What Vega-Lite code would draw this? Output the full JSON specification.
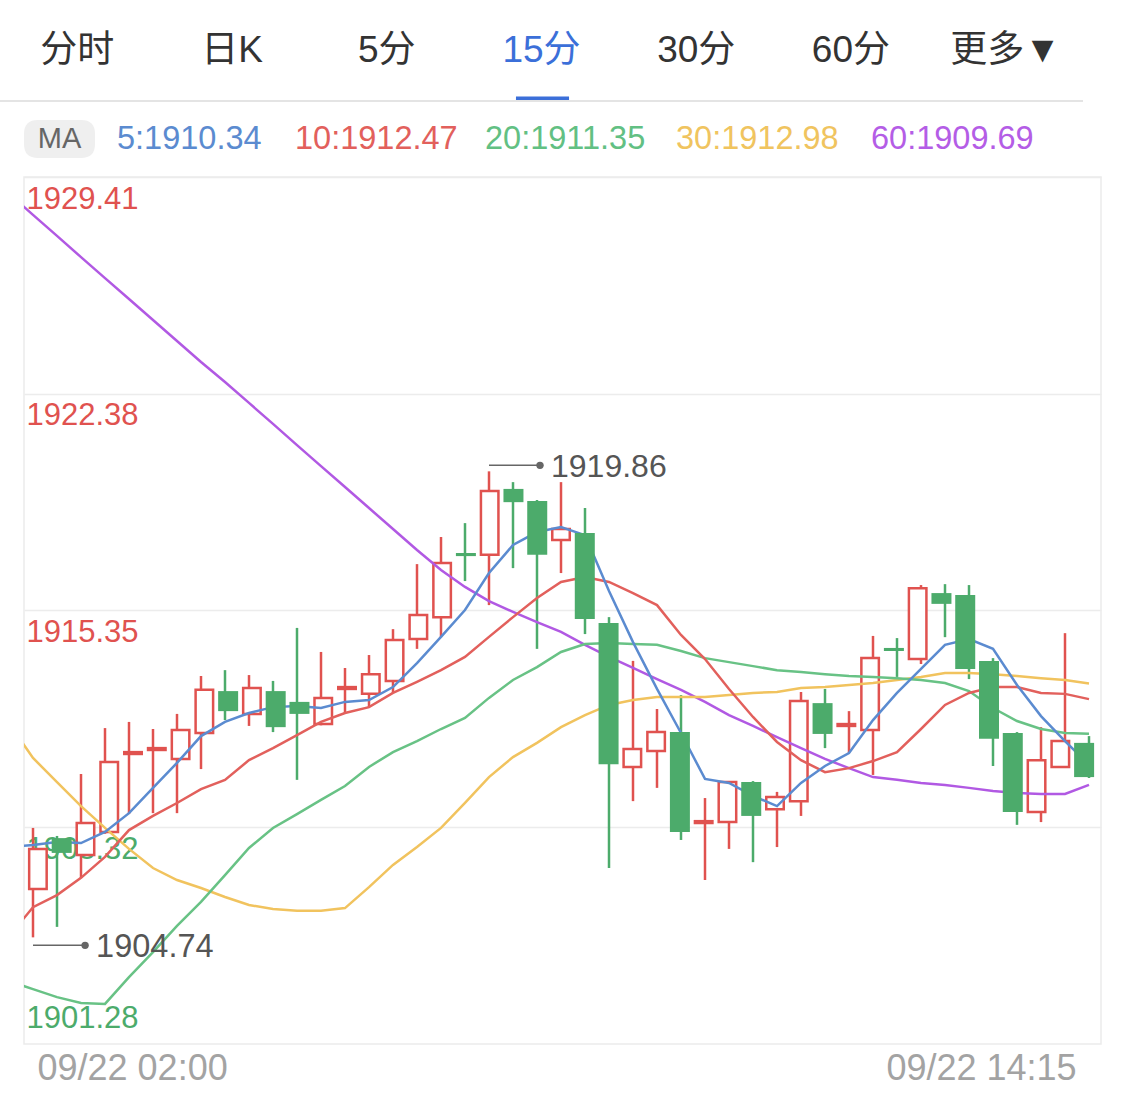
{
  "$schema": "https://vega.github.io/schema/vega-lite/v6.json",
  "width": 1077,
  "height": 867,
  "padding": {"left": 24, "top": 177, "right": 24, "bottom": 57},
  "autosize": {"type": "none"},
  "background": "white",
  "config": {"view": {"stroke": "#ebebeb", "strokeWidth": 1.5}, "font": "Liberation Sans"},
  "datasets": {
    "k": [
      {"i":-1,"m5":1907.67,"m10":1904.77,"m20":1903.32,"m30":1911.68,"m60":1928.87},
      {"i":0,"o":1906.31,"h":1908.29,"l":1904.74,"c":1907.61,"m5":1907.74,"m10":1905.72,"m20":1903.06,"m30":1910.56,"m60":1928.18},
      {"i":1,"o":1907.96,"h":1908.03,"l":1905.08,"c":1907.48,"m5":1907.83,"m10":1906.11,"m20":1902.80,"m30":1909.78,"m60":1927.50},
      {"i":2,"o":1907.41,"h":1910.04,"l":1906.66,"c":1908.45,"m5":1907.80,"m10":1906.67,"m20":1902.61,"m30":1909.00,"m60":1926.81},
      {"i":3,"o":1908.16,"h":1911.53,"l":1908.10,"c":1910.43,"m5":1908.16,"m10":1907.35,"m20":1902.58,"m30":1908.29,"m60":1926.13},
      {"i":4,"o":1910.69,"h":1911.73,"l":1908.74,"c":1910.75,"m5":1908.77,"m10":1908.22,"m20":1903.45,"m30":1907.61,"m60":1925.45},
      {"i":5,"o":1910.82,"h":1911.50,"l":1908.77,"c":1910.88,"m5":1909.59,"m10":1908.68,"m20":1904.26,"m30":1906.99,"m60":1924.77},
      {"i":6,"o":1910.53,"h":1911.99,"l":1908.77,"c":1911.47,"m5":1910.40,"m10":1909.10,"m20":1905.11,"m30":1906.60,"m60":1924.09},
      {"i":7,"o":1911.37,"h":1913.22,"l":1910.20,"c":1912.77,"m5":1911.27,"m10":1909.55,"m20":1905.89,"m30":1906.34,"m60":1923.41},
      {"i":8,"o":1912.73,"h":1913.41,"l":1911.79,"c":1912.08,"m5":1911.73,"m10":1909.85,"m20":1906.76,"m30":1906.05,"m60":1922.76},
      {"i":9,"o":1911.99,"h":1913.25,"l":1911.60,"c":1912.83,"m5":1912.02,"m10":1910.49,"m20":1907.64,"m30":1905.79,"m60":1922.08},
      {"i":10,"o":1912.73,"h":1913.06,"l":1911.40,"c":1911.56,"m5":1912.21,"m10":1910.88,"m20":1908.29,"m30":1905.66,"m60":1921.40},
      {"i":11,"o":1912.38,"h":1914.78,"l":1909.85,"c":1911.99,"m5":1912.25,"m10":1911.30,"m20":1908.74,"m30":1905.60,"m60":1920.71},
      {"i":12,"o":1911.66,"h":1914.00,"l":1911.62,"c":1912.51,"m5":1912.18,"m10":1911.73,"m20":1909.20,"m30":1905.60,"m60":1920.03},
      {"i":13,"o":1912.80,"h":1913.48,"l":1912.02,"c":1912.86,"m5":1912.38,"m10":1912.02,"m20":1909.65,"m30":1905.69,"m60":1919.35},
      {"i":14,"o":1912.64,"h":1913.90,"l":1912.21,"c":1913.28,"m5":1912.44,"m10":1912.21,"m20":1910.27,"m30":1906.37,"m60":1918.67},
      {"i":15,"o":1913.06,"h":1914.74,"l":1912.67,"c":1914.39,"m5":1912.86,"m10":1912.67,"m20":1910.75,"m30":1907.09,"m60":1917.99},
      {"i":16,"o":1914.42,"h":1916.85,"l":1914.10,"c":1915.20,"m5":1913.64,"m10":1913.03,"m20":1911.11,"m30":1907.67,"m60":1917.31},
      {"i":17,"o":1915.13,"h":1917.73,"l":1914.48,"c":1916.89,"m5":1914.49,"m10":1913.41,"m20":1911.50,"m30":1908.29,"m60":1916.66},
      {"i":18,"o":1917.21,"h":1918.18,"l":1916.30,"c":1917.11,"m5":1915.36,"m10":1913.84,"m20":1911.86,"m30":1909.10,"m60":1916.11},
      {"i":19,"o":1917.15,"h":1919.86,"l":1915.52,"c":1919.22,"m5":1916.56,"m10":1914.49,"m20":1912.51,"m30":1909.94,"m60":1915.65},
      {"i":20,"o":1919.29,"h":1919.51,"l":1916.72,"c":1918.86,"m5":1917.47,"m10":1915.13,"m20":1913.09,"m30":1910.59,"m60":1915.30},
      {"i":21,"o":1918.90,"h":1918.93,"l":1914.10,"c":1917.15,"m5":1917.89,"m10":1915.75,"m20":1913.51,"m30":1911.05,"m60":1914.97},
      {"i":22,"o":1917.63,"h":1919.51,"l":1916.56,"c":1917.99,"m5":1918.05,"m10":1916.27,"m20":1914.00,"m30":1911.56,"m60":1914.65},
      {"i":23,"o":1917.86,"h":1918.67,"l":1914.58,"c":1915.07,"m5":1917.79,"m10":1916.43,"m20":1914.26,"m30":1911.95,"m60":1914.23},
      {"i":24,"o":1914.94,"h":1915.13,"l":1906.99,"c":1910.36,"m5":1915.98,"m10":1916.27,"m20":1914.29,"m30":1912.28,"m60":1913.84},
      {"i":25,"o":1910.27,"h":1913.71,"l":1909.16,"c":1910.85,"m5":1914.32,"m10":1915.91,"m20":1914.26,"m30":1912.44,"m60":1913.48},
      {"i":26,"o":1910.79,"h":1912.15,"l":1909.59,"c":1911.40,"m5":1912.80,"m10":1915.52,"m20":1914.23,"m30":1912.54,"m60":1913.12},
      {"i":27,"o":1911.40,"h":1912.60,"l":1907.90,"c":1908.16,"m5":1911.37,"m10":1914.55,"m20":1914.03,"m30":1912.54,"m60":1912.77},
      {"i":28,"o":1908.45,"h":1909.26,"l":1906.60,"c":1908.51,"m5":1909.88,"m10":1913.77,"m20":1913.80,"m30":1912.54,"m60":1912.38},
      {"i":29,"o":1908.48,"h":1909.81,"l":1907.61,"c":1909.78,"m5":1909.75,"m10":1912.80,"m20":1913.67,"m30":1912.60,"m60":1911.95},
      {"i":30,"o":1909.78,"h":1909.81,"l":1907.18,"c":1908.68,"m5":1909.33,"m10":1911.89,"m20":1913.54,"m30":1912.67,"m60":1911.60},
      {"i":31,"o":1908.90,"h":1909.46,"l":1907.67,"c":1909.29,"m5":1909.00,"m10":1911.08,"m20":1913.41,"m30":1912.70,"m60":1911.24},
      {"i":32,"o":1909.16,"h":1912.70,"l":1908.68,"c":1912.41,"m5":1909.75,"m10":1910.49,"m20":1913.35,"m30":1912.83,"m60":1910.88},
      {"i":33,"o":1912.34,"h":1912.80,"l":1910.88,"c":1911.34,"m5":1910.30,"m10":1910.10,"m20":1913.28,"m30":1912.86,"m60":1910.53},
      {"i":34,"o":1911.60,"h":1912.08,"l":1910.72,"c":1911.66,"m5":1910.72,"m10":1910.23,"m20":1913.22,"m30":1912.93,"m60":1910.23},
      {"i":35,"o":1911.47,"h":1914.52,"l":1910.01,"c":1913.80,"m5":1911.79,"m10":1910.46,"m20":1913.19,"m30":1912.99,"m60":1909.94},
      {"i":36,"o":1914.13,"h":1914.45,"l":1913.19,"c":1914.03,"m5":1912.67,"m10":1910.75,"m20":1913.15,"m30":1913.09,"m60":1909.85},
      {"i":37,"o":1913.77,"h":1916.17,"l":1913.61,"c":1916.07,"m5":1913.45,"m10":1911.50,"m20":1913.09,"m30":1913.19,"m60":1909.75},
      {"i":38,"o":1915.91,"h":1916.20,"l":1914.48,"c":1915.56,"m5":1914.23,"m10":1912.28,"m20":1912.99,"m30":1913.32,"m60":1909.68},
      {"i":39,"o":1915.85,"h":1916.17,"l":1913.12,"c":1913.45,"m5":1914.42,"m10":1912.67,"m20":1912.73,"m30":1913.32,"m60":1909.59},
      {"i":40,"o":1913.71,"h":1913.80,"l":1910.30,"c":1911.18,"m5":1914.10,"m10":1912.86,"m20":1912.18,"m30":1913.28,"m60":1909.49},
      {"i":41,"o":1911.37,"h":1911.40,"l":1908.39,"c":1908.81,"m5":1912.93,"m10":1912.86,"m20":1911.76,"m30":1913.22,"m60":1909.42},
      {"i":42,"o":1908.81,"h":1911.56,"l":1908.48,"c":1910.49,"m5":1911.92,"m10":1912.67,"m20":1911.50,"m30":1913.15,"m60":1909.39},
      {"i":43,"o":1910.27,"h":1914.61,"l":1910.24,"c":1911.11,"m5":1911.11,"m10":1912.64,"m20":1911.37,"m30":1913.09,"m60":1909.39},
      {"i":44,"o":1911.05,"h":1911.27,"l":1909.91,"c":1909.94,"m5":1910.34,"m10":1912.47,"m20":1911.35,"m30":1912.98,"m60":1909.69}
    ],
    "ext": [
      {"kind":"max","i":19,"v":1919.86},
      {"kind":"min","i":0,"v":1904.74}
    ],
    "tabs": [
      {"tab":"分时"},{"tab":"日K"},{"tab":"5分"},{"tab":"15分"},{"tab":"30分"},{"tab":"60分"},{"tab":"更多▼"}
    ],
    "ma": [
      {"n":0,"item":"MA"},
      {"n":1,"item":"5:1910.34"},
      {"n":2,"item":"10:1912.47"},
      {"n":3,"item":"20:1911.35"},
      {"n":4,"item":"30:1912.98"},
      {"n":5,"item":"60:1909.69"}
    ]
  },
  "layer": [
    {
      "data": {"name": "k"},
      "transform": [{"filter": "isValid(datum.o)"}],
      "mark": {"type": "rule", "strokeWidth": 2.5},
      "encoding": {
        "x": {"field": "i", "type": "quantitative", "scale": {"domain": [-0.375, 44.5], "nice": false, "zero": false},
          "axis": {"orient": "bottom", "values": [0], "labelExpr": "'09/22 02:00'", "domain": false, "ticks": false, "grid": false,
            "labelFontSize": 36, "labelColor": "#a3a3a3", "labelPadding": 7, "labelBaseline": "top", "labelAlign": "left", "labelOffset": 4, "labelLimit": 0,
            "labelFlush": false, "labelOverlap": false, "labelBound": false, "title": null}},
        "y": {"field": "l", "type": "quantitative", "scale": {"domain": [1901.28, 1929.41], "nice": false, "zero": false},
          "axis": {"orient": "left", "values": [1915.35, 1922.38, 1929.41], "format": ".2f",
            "domain": false, "ticks": false, "tickSize": 0, "labelAlign": "left", "labelPadding": -2,
            "labelBaseline": "top", "labelOffset": 7, "labelColor": "#e0524f",
            "labelFontSize": 31, "grid": true, "gridColor": "#ececec", "gridWidth": 1.5,
            "labelOverlap": false, "labelFlush": false, "labelBound": false, "title": null}},
        "y2": {"field": "h"},
        "color": {"condition": {"test": "datum.c >= datum.o", "value": "#e0524f"}, "value": "#4cab6b"}
      }
    },
    {
      "data": {"name": "k"},
      "transform": [{"filter": "isValid(datum.o) && datum.c >= datum.o"}],
      "mark": {"type": "bar", "width": 17.5, "fill": "white", "stroke": "#e0524f", "strokeWidth": 2.5},
      "encoding": {
        "x": {"field": "i", "type": "quantitative", "scale": {"domain": [-0.375, 44.5], "nice": false, "zero": false},
          "axis": {"orient": "bottom", "values": [44], "labelExpr": "'09/22 14:15'", "domain": false, "ticks": false, "grid": false,
            "labelFontSize": 36, "labelColor": "#a3a3a3", "labelPadding": 7, "labelBaseline": "top", "labelAlign": "right", "labelOffset": -8, "labelLimit": 0,
            "labelFlush": false, "labelOverlap": false, "labelBound": false, "title": null}},
        "y": {"field": "o", "type": "quantitative", "scale": {"domain": [1901.28, 1929.41], "nice": false, "zero": false},
          "axis": {"orient": "left", "values": [1908.32], "format": ".2f",
            "domain": false, "ticks": false, "tickSize": 0, "labelAlign": "left", "labelPadding": -2,
            "labelBaseline": "top", "labelOffset": 7, "labelColor": "#4cab6b",
            "labelFontSize": 31, "grid": true, "gridColor": "#ececec", "gridWidth": 1.5,
            "labelOverlap": false, "labelFlush": false, "labelBound": false, "title": null}},
        "y2": {"field": "c"}
      }
    },
    {
      "data": {"name": "k"},
      "mark": {"type": "line", "strokeWidth": 2.5, "color": "#b159e3", "clip": true},
      "encoding": {
        "x": {"field": "i", "type": "quantitative", "scale": {"domain": [-0.375, 44.5], "nice": false, "zero": false}, "axis": null},
        "y": {"field": "m60", "type": "quantitative", "scale": {"domain": [1901.28, 1929.41], "nice": false, "zero": false}, "axis": null}
      }
    },
    {
      "data": {"name": "k"},
      "mark": {"type": "line", "strokeWidth": 2.5, "color": "#f1c35e", "clip": true},
      "encoding": {
        "x": {"field": "i", "type": "quantitative", "scale": {"domain": [-0.375, 44.5], "nice": false, "zero": false}, "axis": null},
        "y": {"field": "m30", "type": "quantitative", "scale": {"domain": [1901.28, 1929.41], "nice": false, "zero": false}, "axis": null}
      }
    },
    {
      "data": {"name": "k"},
      "mark": {"type": "line", "strokeWidth": 2.5, "color": "#68c285", "clip": true},
      "encoding": {
        "x": {"field": "i", "type": "quantitative", "scale": {"domain": [-0.375, 44.5], "nice": false, "zero": false}, "axis": null},
        "y": {"field": "m20", "type": "quantitative", "scale": {"domain": [1901.28, 1929.41], "nice": false, "zero": false}, "axis": null}
      }
    },
    {
      "data": {"name": "k"},
      "mark": {"type": "line", "strokeWidth": 2.5, "color": "#e2605c", "clip": true},
      "encoding": {
        "x": {"field": "i", "type": "quantitative", "scale": {"domain": [-0.375, 44.5], "nice": false, "zero": false}, "axis": null},
        "y": {"field": "m10", "type": "quantitative", "scale": {"domain": [1901.28, 1929.41], "nice": false, "zero": false}, "axis": null}
      }
    },
    {
      "data": {"name": "k"},
      "mark": {"type": "line", "strokeWidth": 2.5, "color": "#5b8bd0", "clip": true},
      "encoding": {
        "x": {"field": "i", "type": "quantitative", "scale": {"domain": [-0.375, 44.5], "nice": false, "zero": false}, "axis": null},
        "y": {"field": "m5", "type": "quantitative", "scale": {"domain": [1901.28, 1929.41], "nice": false, "zero": false}, "axis": null}
      }
    },
    {
      "data": {"name": "k"},
      "transform": [{"filter": "isValid(datum.o) && datum.c < datum.o"}],
      "mark": {"type": "bar", "width": 20, "fill": "#4cab6b", "strokeWidth": 0},
      "encoding": {
        "x": {"field": "i", "type": "quantitative", "scale": {"domain": [-0.375, 44.5], "nice": false, "zero": false}, "axis": null},
        "y": {"field": "o", "type": "quantitative", "scale": {"domain": [1901.28, 1929.41], "nice": false, "zero": false},
          "axis": {"orient": "left", "values": [1901.28], "format": ".2f",
            "domain": false, "ticks": false, "tickSize": 0, "labelAlign": "left", "labelPadding": -2,
            "labelBaseline": "alphabetic", "labelOffset": -17, "labelColor": "#4cab6b",
            "labelFontSize": 31, "grid": false,
            "labelOverlap": false, "labelFlush": false, "labelBound": false, "title": null}},
        "y2": {"field": "c"}
      }
    },
    {
      "data": {"name": "ext"},
      "transform": [{"filter": "datum.kind === 'max'"}],
      "mark": {"type": "rule", "color": "#666666", "strokeWidth": 1.5, "yOffset": -6},
      "encoding": {
        "x": {"field": "i", "type": "quantitative", "scale": {"domain": [-0.375, 44.5], "nice": false, "zero": false}, "axis": null},
        "x2": {"datum": 21.125},
        "y": {"field": "v", "type": "quantitative", "scale": {"domain": [1901.28, 1929.41], "nice": false, "zero": false}, "axis": null}
      }
    },
    {
      "data": {"name": "ext"},
      "transform": [{"filter": "datum.kind === 'max'"}],
      "mark": {"type": "circle", "color": "#666666", "size": 55, "opacity": 1, "yOffset": -6},
      "encoding": {
        "x": {"datum": 21.125, "type": "quantitative", "scale": {"domain": [-0.375, 44.5], "nice": false, "zero": false}, "axis": null},
        "y": {"field": "v", "type": "quantitative", "scale": {"domain": [1901.28, 1929.41], "nice": false, "zero": false}, "axis": null}
      }
    },
    {
      "data": {"name": "ext"},
      "transform": [{"filter": "datum.kind === 'max'"}],
      "mark": {"type": "text", "align": "left", "baseline": "middle", "dx": 11, "dy": 2, "yOffset": -6, "fontSize": 32, "color": "#555555"},
      "encoding": {
        "x": {"datum": 21.125, "type": "quantitative", "scale": {"domain": [-0.375, 44.5], "nice": false, "zero": false}, "axis": null},
        "y": {"field": "v", "type": "quantitative", "scale": {"domain": [1901.28, 1929.41], "nice": false, "zero": false}, "axis": null},
        "text": {"field": "v", "type": "quantitative", "format": ".2f"}
      }
    },
    {
      "data": {"name": "ext"},
      "transform": [{"filter": "datum.kind === 'min'"}],
      "mark": {"type": "rule", "color": "#666666", "strokeWidth": 1.5, "yOffset": 8},
      "encoding": {
        "x": {"field": "i", "type": "quantitative", "scale": {"domain": [-0.375, 44.5], "nice": false, "zero": false}, "axis": null},
        "x2": {"datum": 2.17},
        "y": {"field": "v", "type": "quantitative", "scale": {"domain": [1901.28, 1929.41], "nice": false, "zero": false}, "axis": null}
      }
    },
    {
      "data": {"name": "ext"},
      "transform": [{"filter": "datum.kind === 'min'"}],
      "mark": {"type": "circle", "color": "#666666", "size": 55, "opacity": 1, "yOffset": 8},
      "encoding": {
        "x": {"datum": 2.17, "type": "quantitative", "scale": {"domain": [-0.375, 44.5], "nice": false, "zero": false}, "axis": null},
        "y": {"field": "v", "type": "quantitative", "scale": {"domain": [1901.28, 1929.41], "nice": false, "zero": false}, "axis": null}
      }
    },
    {
      "data": {"name": "ext"},
      "transform": [{"filter": "datum.kind === 'min'"}],
      "mark": {"type": "text", "align": "left", "baseline": "middle", "dx": 11, "dy": 2, "yOffset": 8, "fontSize": 32.5, "color": "#555555"},
      "encoding": {
        "x": {"datum": 2.17, "type": "quantitative", "scale": {"domain": [-0.375, 44.5], "nice": false, "zero": false}, "axis": null},
        "y": {"field": "v", "type": "quantitative", "scale": {"domain": [1901.28, 1929.41], "nice": false, "zero": false}, "axis": null},
        "text": {"field": "v", "type": "quantitative", "format": ".2f"}
      }
    },
    {
      "data": {"name": "tabs"},
      "mark": {"type": "text", "fontSize": 37, "font": "Liberation Sans, Noto Sans CJK SC", "baseline": "middle"},
      "encoding": {
        "x": {"field": "tab", "type": "nominal", "sort": null, "scale": {"type": "band", "domain": ["分时","日K","5分","15分","30分","60分","更多▼"], "range": [-24, 1059], "paddingInner": 0, "paddingOuter": 0}, "axis": null},
        "y": {"datum": "tabs", "type": "nominal", "scale": {"type": "point", "domain": ["tabs", "ma"], "range": [-126.5, -38], "padding": 0}, "axis": null},
        "text": {"field": "tab"},
        "color": {"condition": {"test": "datum.tab === '15分'", "value": "#3b6fd9"}, "value": "#333333"}
      }
    },
    {
      "data": {"name": "tabs"},
      "transform": [{"filter": "datum.tab === '15分'"}],
      "mark": {"type": "rule", "color": "#3b6fd9", "strokeWidth": 4, "yOffset": 48},
      "encoding": {
        "x": {"field": "tab", "type": "nominal", "bandPosition": 0.335, "scale": {"type": "band", "domain": ["分时","日K","5分","15分","30分","60分","更多▼"], "range": [-24, 1059], "paddingInner": 0, "paddingOuter": 0}, "axis": null},
        "x2": {"field": "tab", "bandPosition": 0.678},
        "y": {"datum": "tabs", "type": "nominal", "scale": {"type": "point", "domain": ["tabs", "ma"], "range": [-126.5, -38], "padding": 0}, "axis": null}
      }
    },
    {
      "data": {"name": "tabs"},
      "transform": [{"filter": "datum.tab === '分时'"}],
      "mark": {"type": "rule", "color": "#e4e4e4", "strokeWidth": 2, "yOffset": 50.5},
      "encoding": {
        "x": {"field": "tab", "type": "nominal", "bandPosition": 0, "scale": {"type": "band", "domain": ["分时","日K","5分","15分","30分","60分","更多▼"], "range": [-24, 1059], "paddingInner": 0, "paddingOuter": 0}, "axis": null},
        "x2": {"datum": "更多▼", "bandPosition": 1},
        "y": {"datum": "tabs", "type": "nominal", "scale": {"type": "point", "domain": ["tabs", "ma"], "range": [-126.5, -38], "padding": 0}, "axis": null}
      }
    },
    {
      "data": {"name": "ma"},
      "transform": [{"filter": "datum.n === 0"}],
      "mark": {"type": "point", "shape": "M -0.606 -0.535 L 0.606 -0.535 Q 1 -0.535 1 -0.141 L 1 0.141 Q 1 0.535 0.606 0.535 L -0.606 0.535 Q -1 0.535 -1 0.141 L -1 -0.141 Q -1 -0.535 -0.606 -0.535 Z", "size": 5041, "filled": true, "fill": "#efefef", "opacity": 1, "strokeWidth": 0},
      "encoding": {
        "x": {"field": "n", "type": "quantitative", "scale": {"domain": [0, 1, 2, 3, 4, 5], "range": [35.5, 93, 271, 461, 652, 847], "nice": false, "zero": false}, "axis": null},
        "y": {"datum": "ma", "type": "nominal", "scale": {"type": "point", "domain": ["tabs", "ma"], "range": [-126.5, -38], "padding": 0}, "axis": null}
      }
    },
    {
      "data": {"name": "ma"},
      "transform": [{"filter": "datum.n === 0"}],
      "mark": {"type": "text", "fontSize": 29, "color": "#666666", "align": "center", "baseline": "middle"},
      "encoding": {
        "x": {"field": "n", "type": "quantitative", "scale": {"domain": [0, 1, 2, 3, 4, 5], "range": [35.5, 93, 271, 461, 652, 847], "nice": false, "zero": false}, "axis": null},
        "y": {"datum": "ma", "type": "nominal", "scale": {"type": "point", "domain": ["tabs", "ma"], "range": [-126.5, -38], "padding": 0}, "axis": null},
        "text": {"field": "item"}
      }
    },
    {
      "data": {"name": "ma"},
      "transform": [{"filter": "datum.n > 0"}],
      "mark": {"type": "text", "fontSize": 32.5, "align": "left", "baseline": "middle"},
      "encoding": {
        "x": {"field": "n", "type": "quantitative", "scale": {"domain": [0, 1, 2, 3, 4, 5], "range": [35.5, 93, 271, 461, 652, 847], "nice": false, "zero": false}, "axis": null},
        "y": {"datum": "ma", "type": "nominal", "scale": {"type": "point", "domain": ["tabs", "ma"], "range": [-126.5, -38], "padding": 0}, "axis": null},
        "text": {"field": "item"},
        "color": {"field": "item", "type": "nominal", "scale": {"domain": ["5:1910.34", "10:1912.47", "20:1911.35", "30:1912.98", "60:1909.69"], "range": ["#5b8bd0", "#e2605c", "#62c083", "#f0c45f", "#b45de6"]}, "legend": null}
      }
    }
  ],
  "resolve": {"scale": {"x": "independent", "y": "independent", "color": "independent"}}
}
